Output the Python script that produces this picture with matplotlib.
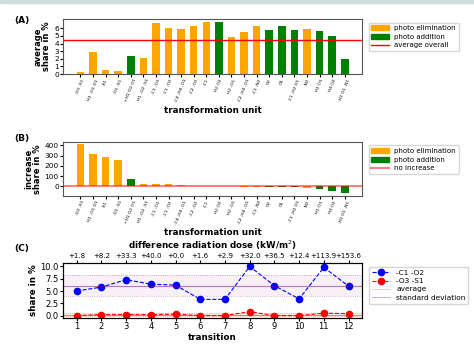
import matplotlib
matplotlib.use("Agg")
import matplotlib.pyplot as plt
import numpy as np

units = ['-O3 -S1', 'H1 -O1 O1', '-S1', '-O1 -S1', '+H1 O2 O1', 'H1 -O2 -S1',
         '-C1 -O1', '-C1 -O2', '-C4 -H4 -O1', '-C2 -O2', '-C1', 'H2 O2', 'H2 -O1',
         '-C2 -H4 -O1', '-C1 -N2', 'O2', 'O1', '-C1 -H2 O1', '-N2', 'H1 O1',
         'H4 O2', '-H1 O1 -N1']
kind = ['e', 'e', 'e', 'e', 'a', 'e', 'e', 'e', 'e', 'e', 'e', 'a', 'e',
        'e', 'e', 'a', 'a', 'a', 'e', 'a', 'a', 'a']
avg_share = [0.26, 2.86, 0.48, 0.40, 2.42, 2.07, 6.70, 6.08, 5.86, 6.30, 6.78,
             6.87, 4.89, 5.55, 6.34, 5.73, 6.30, 5.77, 5.95, 5.68, 5.02, 2.03]
avg_overall = 4.5
increase = [410, 316, 287, 261, 77, 26, 26, 22, 13, 6, 1, 1, 0,
            -2, -3, -5, -6, -6, -14, -26, -48, -68]

transition = np.arange(1, 13)
dose = ['+1.8', '+8.2', '+33.3', '+40.0', '+0.0', '+1.6', '+2.9', '+32.0',
        '+36.5', '+12.4', '+113.9', '+153.6']
c1_o2 = [5.0, 5.8, 7.3, 6.4, 6.2, 3.3, 3.3, 10.0, 6.1, 3.4, 9.8, 6.0]
o3_s1 = [0.0, 0.2, 0.2, 0.2, 0.3, 0.0, 0.0, 0.8, 0.0, 0.0, 0.5, 0.4]

colors = ['orange' if k == 'e' else 'green' for k in kind]
x = np.arange(len(units))

fig = plt.figure(figsize=(4.74, 3.53), dpi=100)
fig.patches.append(plt.Rectangle((0, 0.991), 1, 0.009, transform=fig.transFigure,
                                 color='#cfdfdf', zorder=0))

def bar_panel(rect, vals, hline, hlabel, ylabel, hstyle):
    ax = fig.add_axes(rect)
    ax.bar(x, vals, width=0.6, color=colors)
    ax.axhline(hline, label=hlabel, **hstyle)
    ax.set_xticks(x)
    ax.set_xticklabels(units, rotation=68, fontsize=3.2)
    ax.tick_params(axis='x', length=2, pad=1)
    ax.tick_params(axis='y', labelsize=5.3, length=2, pad=1)
    ax.set_ylabel(ylabel, fontsize=6, fontweight='bold', labelpad=2, linespacing=0.9)
    ax.set_xlabel('transformation unit', fontsize=6.3, fontweight='bold', labelpad=2)
    handles = [plt.Rectangle((0, 0), 1, 1, color='orange', label='photo elimination'),
               plt.Rectangle((0, 0), 1, 1, color='green', label='photo addition'),
               plt.Line2D([0], [0], label=hlabel, **hstyle)]
    ax.legend(handles=handles, loc='upper left', bbox_to_anchor=(1.01, 1.0),
              fontsize=5, handlelength=2.5, borderpad=0.4, labelspacing=0.35)
    for s in ax.spines.values():
        s.set_color('#555555')
    return ax

axA = bar_panel([0.133, 0.790, 0.631, 0.156], avg_share, avg_overall, 'average overall',
                'average\nshare in %', dict(color='red', lw=1))
axA.set_yticks(range(0, 7))
axB = bar_panel([0.133, 0.445, 0.631, 0.153], increase, 0, 'no increase',
                'increase\nshare in %', dict(color='red', lw=1.5, alpha=0.5))
axB.set_yticks([0, 100, 200, 300, 400])

axC = fig.add_axes([0.133, 0.099, 0.631, 0.156])
for vals, col, lab in [(c1_o2, 'blue', '-C1 -O2'), (o3_s1, 'red', '-O3 -S1')]:
    m, s = np.mean(vals), np.std(vals)
    axC.plot(transition, vals, '--o', color=col, lw=0.8, markersize=4.5, label=lab)
    lc = 'purple' if col == 'blue' else 'red'
    axC.axhline(m, color=lc, lw=0.8, alpha=0.5)
    axC.axhline(m + s, color=lc, lw=0.6, alpha=0.4, ls=':')
    axC.axhline(m - s, color=lc, lw=0.6, alpha=0.4, ls=':')
    axC.axhspan(m - s, m + s, color=lc, alpha=0.06, lw=0)
axC.plot([], [], color='gray', lw=0.6, alpha=0.4, label='average')
axC.plot([], [], color='purple', lw=0.6, alpha=0.4, label='standard deviation')
axC.set_xticks(transition)
axC.set_ylim(-0.5, 10.7)
axC.set_yticks([0, 2.5, 5, 7.5, 10])
axC.tick_params(labelsize=6, length=2, pad=1)
axC.set_ylabel('share in %', fontsize=6.3, fontweight='bold', labelpad=2)
axC.set_xlabel('transition', fontsize=6.3, fontweight='bold', labelpad=1)
top = axC.twiny()
top.set_xlim(axC.get_xlim())
top.set_xticks(transition)
top.set_xticklabels(dose)
top.tick_params(labelsize=5.0, length=2, pad=1)
top.set_xlabel('difference radiation dose (kW/m$^2$)', fontsize=6.3, fontweight='bold', labelpad=2.5)
axC.legend(loc='upper left', bbox_to_anchor=(1.01, 1.0), fontsize=5.3,
           handlelength=2.5, borderpad=0.4, labelspacing=0.3)

for lab, y in [('(A)', 0.935), ('(B)', 0.60), ('(C)', 0.29)]:
    fig.text(0.03, y, lab, fontsize=6.5, fontweight='bold')

fig.savefig('out.png', dpi=100)
